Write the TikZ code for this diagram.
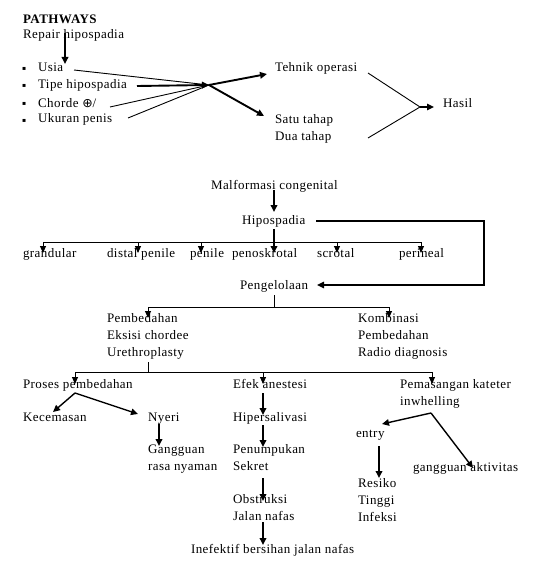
\documentclass[tikz,border=0pt]{standalone}
\usepackage{fontspec}
\setmainfont{Liberation Serif}[LetterSpace=3.5]
\newfontfamily\symfont{DejaVu Sans}
\usetikzlibrary{arrows.meta}
\newcommand\mlines[1]{\begin{tabular}[t]{@{}l@{}}#1\end{tabular}}
\begin{document}
\begin{tikzpicture}[x=1pt,y=-1pt,
  every node/.style={inner sep=0pt, outer sep=0pt, anchor=base west, font=\fontsize{13}{17}\selectfont},
  thinline/.style={line width=0.9pt},
  midline/.style={line width=1.4pt},
  thickline/.style={line width=1.9pt},
  arr/.style={-{Triangle[length=7pt,width=6.5pt]}},
  sarr/.style={line width=0.9pt,-{Triangle[length=7pt,width=6pt]}},
  bul/.style={font=\symfont\fontsize{6}{8}\selectfont}
]
\useasboundingbox[fill=white] (0,0) rectangle (552,583);

% ---------- top part ----------
\node[font=\fontsize{13}{17}\selectfont\bfseries] (pw) at (23,24) {PATHWAYS};
\node (rep) at (23,39) {Repair hipospadia};
\node[bul] (b1) at (22,71) {▪};
\node[bul] (b2) at (22,88) {▪};
\node[bul] (b3) at (22,106) {▪};
\node[bul] (b4) at (22,122) {▪};
\node (usia) at (38,72) {Usia};
\node (tipe) at (38,89) {Tipe hipospadia};
\node (chorde) at (38,107) {Chorde {\symfont\fontsize{12.5}{14}\selectfont ⊕}/};
\node (ukuran) at (38,123) {Ukuran penis};
\node (tehnik) at (275,72) {Tehnik operasi};
\node (tahap) at (275,124) {\mlines{Satu tahap\\Dua tahap}};
\node (hasil) at (443,108) {Hasil};

\coordinate (r1) at (65,33);
\coordinate (r2) at (65,64);
\coordinate (c0) at (209,85);
\coordinate (u0) at (74,70);
\coordinate (t0) at (137,86);
\coordinate (ch0) at (110,107);
\coordinate (uk0) at (128,118);
\coordinate (te) at (267,74);
\coordinate (sa) at (264,116);
\coordinate (h1) at (368,73);
\coordinate (h2) at (368,138);
\coordinate (h0) at (420,107);
\coordinate (h3) at (434,107);

\draw[thickline,arr] (r1) -- (r2);
\draw[thinline] (u0) -- (c0);
\draw[thickline,arr] (t0) -- (c0);
\draw[thinline] (ch0) -- (c0);
\draw[thinline] (uk0) -- (c0);
\draw[thickline,arr] (c0) -- (te);
\draw[thickline,arr] (c0) -- (sa);
\draw[thinline] (h1) -- (h0) -- (h2);
\draw[midline,arr] (h0) -- (h3);

% ---------- middle part ----------
\node (mal) at (211,189) {Malformasi congenital};
\node (hipo) at (242,224) {Hipospadia};
\node (gra) at (23,257) {grandular};
\node (dis) at (107,257) {distal penile};
\node (pen) at (190,257) {penile};
\node (pno) at (232,257) {penoskrotal};
\node (scr) at (317,257) {scrotal};
\node (per) at (399,257) {perineal};
\node (pgl) at (240,289) {Pengelolaan};
\node (pbd) at (107,322) {\mlines{Pembedahan\\Eksisi chordee\\Urethroplasty}};
\node (kom) at (358,322) {\mlines{Kombinasi\\Pembedahan\\Radio diagnosis}};

\coordinate (m1) at (274,190);
\coordinate (m2) at (274,212);
\coordinate (hr0) at (316,221);
\coordinate (hr1) at (484,221);
\coordinate (hr2) at (484,285);
\coordinate (hr3) at (317,285);
\coordinate (hd0) at (274,229);
\coordinate (hd1) at (274,253);
\coordinate (bl) at (43,242);
\coordinate (br) at (421,242);
\coordinate (pd0) at (274,295);
\coordinate (pd1) at (274,307);
\coordinate (pl) at (148,307);
\coordinate (pr) at (389,307);
\coordinate (bd0) at (148,362);
\coordinate (bd1) at (148,372);
\coordinate (ql) at (75,372);
\coordinate (qr) at (432,372);

\draw[thickline,arr] (m1) -- (m2);
\draw[midline,arr] (hr0) -- (hr1) -- (hr2) -- (hr3);
\draw[thinline] (bl) -- (br);
\draw[thickline,arr] (hd0) -- (hd1);
\foreach \xx in {43,138,201,337,421}
  \draw[sarr] (\xx,242) -- (\xx,253);
\draw[thinline] (pd0) -- (pd1);
\draw[thinline] (pl) -- (pr);
\draw[sarr] (pl) -- (148,318);
\draw[sarr] (pr) -- (389,318);
\draw[thinline] (bd0) -- (bd1);
\draw[thinline] (ql) -- (qr);
\draw[sarr] (ql) -- (75,384);
\draw[sarr] (263,372) -- (263,384);
\draw[sarr] (qr) -- (432,384);

% ---------- bottom part ----------
\node (pro) at (23,388) {Proses pembedahan};
\node (efk) at (233,388) {Efek anestesi};
\node (pem) at (400,388) {\mlines{Pemasangan kateter\\inwhelling}};
\node (kec) at (23,421) {Kecemasan};
\node (nye) at (148,421) {Nyeri};
\node (gan) at (148,453) {\mlines{Gangguan\\rasa nyaman}};
\node (hip) at (233,421) {Hipersalivasi};
\node (pnp) at (233,453) {\mlines{Penumpukan\\Sekret}};
\node (obs) at (233,503) {\mlines{Obstruksi\\Jalan nafas}};
\node (ine) at (191,553) {Inefektif bersihan jalan nafas};
\node (ent) at (356,437) {entry};
\node (gak) at (413,471) {gangguan aktivitas};
\node (res) at (358,487) {\mlines{Resiko\\Tinggi\\Infeksi}};

\coordinate (pa) at (75,393);
\coordinate (pk) at (53,412);
\coordinate (pn) at (138,414);
\draw[midline,arr] (pa) -- (pk);
\draw[midline,arr] (pa) -- (pn);
\draw[thickline,arr] (159,424) -- (159,446);
\draw[thickline,arr] (263,393) -- (263,415);
\draw[thickline,arr] (263,425) -- (263,447);
\draw[thickline,arr] (263,478) -- (263,501);
\draw[thickline,arr] (263,522) -- (263,545);
\coordinate (ka) at (431,413);
\draw[midline,arr] (ka) -- (382,424);
\draw[midline,arr] (ka) -- (473,468);
\draw[thickline,arr] (379,446) -- (379,478);
\end{tikzpicture}
\end{document}
